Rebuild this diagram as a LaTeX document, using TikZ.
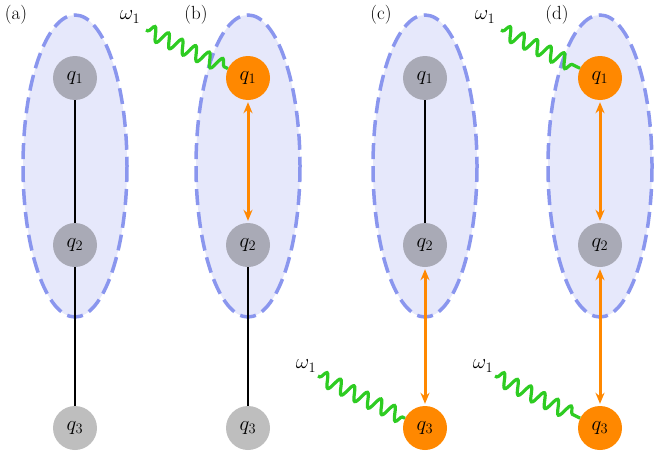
\documentclass[tikz,border=0pt]{standalone}
\usetikzlibrary{decorations.pathmorphing,arrows.meta}
\definecolor{ellb}{HTML}{8A96EE}
\definecolor{ellf}{HTML}{E6E8FB}
\definecolor{gin}{HTML}{A9AAB6}
\definecolor{gout}{HTML}{BEBEBE}
\definecolor{org}{HTML}{FF8800}
\definecolor{grn}{HTML}{2ECC22}
\begin{document}
\begin{tikzpicture}[x=1pt,y=-1pt,
  ell/.style={draw=ellb,fill=ellf,line width=3.5pt,dash pattern=on 16pt off 7pt},
  qin/.style={circle,fill=gin,minimum size=44pt,inner sep=0pt,font=\fontsize{20}{24}\selectfont},
  qout/.style={circle,fill=gout,minimum size=44pt,inner sep=0pt,font=\fontsize{20}{24}\selectfont},
  qon/.style={circle,fill=org,minimum size=44pt,inner sep=0pt,font=\fontsize{20}{24}\selectfont},
  bond/.style={line width=1.8pt},
  obond/.style={line width=3pt,org,{Stealth[length=11pt,width=9pt]}-{Stealth[length=11pt,width=9pt]},shorten <=2pt,shorten >=2pt},
  wave/.style={line width=3.2pt,grn,decorate,decoration={snake,amplitude=7pt,segment length=15pt,pre length=2pt,post length=2pt}},
  lab/.style={font=\fontsize{19}{23}\selectfont},
  om/.style={font=\fontsize{20}{24}\selectfont}]
\useasboundingbox (0,0) rectangle (663,455);
\foreach \x in {75,248,425,600}{
  \draw[ell] (\x,166) ellipse (52 and 151);
}
\node[lab] at (16,15) {(a)};
\node[lab] at (196,15) {(b)};
\node[lab] at (381,15) {(c)};
\node[lab] at (557,15) {(d)};
% (a)
\node[qin] (a1) at (75,78) {$q_1$};
\node[qin] (a2) at (75,245) {$q_2$};
\node[qout] (a3) at (75,428) {$q_3$};
\draw[bond] (a1)--(a2); \draw[bond] (a2)--(a3);
% (b)
\node[qon] (b1) at (248,78) {$q_1$};
\node[qin] (b2) at (248,245) {$q_2$};
\node[qout] (b3) at (248,428) {$q_3$};
\draw[obond] (b1)--(b2); \draw[bond] (b2)--(b3);
\node[om] (wb) at (130,17) {$\omega_1$};
\coordinate (wbs) at (146,30);
\draw[wave] (wbs)--(b1);
% (c)
\node[qin] (c1) at (425,78) {$q_1$};
\node[qin] (c2) at (425,245) {$q_2$};
\node[qon] (c3) at (425,428) {$q_3$};
\draw[bond] (c1)--(c2); \draw[obond] (c2)--(c3);
\node[om] (wc) at (306,366) {$\omega_1$};
\coordinate (wcs) at (318,376);
\draw[wave] (wcs)--(c3);
% (d)
\node[om] (wd) at (485,17) {$\omega_1$};
\node[qon] (d1) at (600,78) {$q_1$};
\node[qin] (d2) at (600,245) {$q_2$};
\node[qon] (d3) at (600,428) {$q_3$};
\draw[obond] (d1)--(d2); \draw[obond] (d2)--(d3);
\coordinate (wds) at (501,30);
\draw[wave] (wds)--(d1);
\node[om] (we) at (483,366) {$\omega_1$};
\coordinate (wes) at (495,376);
\draw[wave] (wes)--(d3);
\end{tikzpicture}
\end{document}
